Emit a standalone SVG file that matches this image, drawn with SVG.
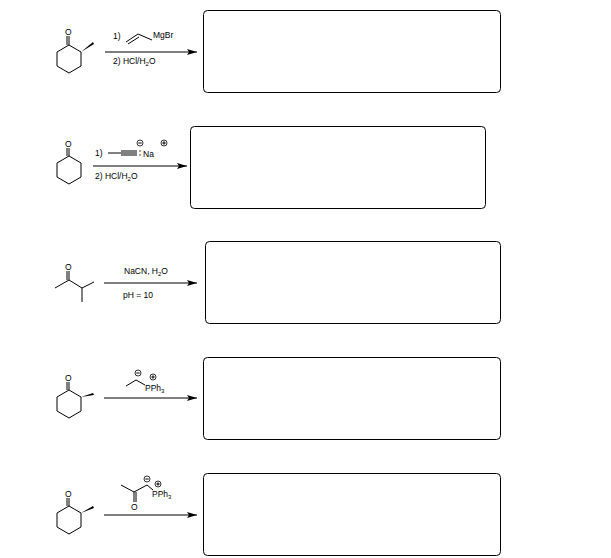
<svg xmlns="http://www.w3.org/2000/svg" width="611" height="558" viewBox="0 0 611 558">
<defs><marker id="ah" viewBox="0 0 10 6" refX="10" refY="3" markerWidth="10" markerHeight="6" markerUnits="userSpaceOnUse" orient="auto"><path d="M0,0L10,3L0,6L2,3Z" fill="#000"/></marker>
<g id="ring"><polygon points="0,0 12,7 12,21 0,28 -12,21 -12,7" fill="none"/></g></defs>
<style>line,polyline,polygon{stroke:#000;stroke-width:1;fill:none}.t{font-family:"Liberation Sans",Arial,sans-serif;font-size:8.5px;fill:#000}.s{font-size:6px}.box{fill:#fff;stroke:#000;stroke-width:1}.w{fill:#000;stroke:none}</style>
<rect width="611" height="558" fill="#fff"/>
<g id="m1"><use href="#ring" x="69" y="45" stroke="#000"/><line x1="69" y1="45" x2="69" y2="36"/><line x1="67" y1="45" x2="67" y2="36"/><text class="t" x="65" y="35">O</text><polygon class="w" points="81,52 93,42 94,44"/></g>
<g id="m2"><use href="#ring" x="69" y="156" stroke="#000"/><line x1="69" y1="156" x2="69" y2="148"/><line x1="67" y1="156" x2="67" y2="148"/><text class="t" x="65" y="147">O</text></g>
<g id="m3"><polyline points="55,288 69,280 82,288 94,282"/><line x1="82" y1="288" x2="82" y2="302"/><line x1="69" y1="280" x2="69" y2="271"/><line x1="67" y1="280" x2="67" y2="271"/><text class="t" x="65" y="270">O</text></g>
<g id="m4"><use href="#ring" x="69" y="390" stroke="#000"/><line x1="69" y1="390" x2="69" y2="382"/><line x1="67" y1="390" x2="67" y2="382"/><text class="t" x="65" y="381">O</text><polygon class="w" points="81,397 93,393 94,395"/></g>
<g id="m5"><use href="#ring" x="69" y="506" stroke="#000"/><line x1="69" y1="506" x2="69" y2="498"/><line x1="67" y1="506" x2="67" y2="498"/><text class="t" x="65" y="497">O</text><polygon class="w" points="81,513 93,506 94,508"/></g>
<g id="connectors">
<line x1="105" y1="52" x2="197" y2="52" marker-end="url(#ah)"/>
<line x1="93" y1="166" x2="187" y2="166" marker-end="url(#ah)"/>
<line x1="104" y1="283" x2="197" y2="283" marker-end="url(#ah)"/>
<line x1="104" y1="398" x2="197" y2="398" marker-end="url(#ah)"/>
<line x1="104" y1="515" x2="197" y2="515" marker-end="url(#ah)"/>
</g>
<g id="r1"><text class="t" x="113" y="39">1)</text><polyline points="126,42 138,34 152,40"/><line x1="128" y1="44" x2="139" y2="37"/><text class="t" x="153" y="38">MgBr</text><text class="t" x="113" y="64">2) HCl/H<tspan class="s" dy="2">2</tspan><tspan dy="-2">O</tspan></text></g>
<g id="r2"><text class="t" x="95" y="156">1)</text><line x1="108" y1="153" x2="137" y2="153"/><line x1="121" y1="151" x2="137" y2="151"/><line x1="121" y1="155" x2="137" y2="155"/><circle cx="140" cy="151" r="0.7"/><circle cx="140" cy="155" r="0.7"/><text class="t" x="143" y="157">Na</text><circle cx="140" cy="143" r="3" fill="none" stroke="#000" stroke-width="0.8"/><line x1="138.3" y1="143" x2="141.7" y2="143" stroke-width="0.8"/><circle cx="164" cy="143" r="3" fill="none" stroke="#000" stroke-width="0.8"/><line x1="162.3" y1="143" x2="165.7" y2="143" stroke-width="0.8"/><line x1="164" y1="141.3" x2="164" y2="144.7" stroke-width="0.8"/><text class="t" x="95" y="179">2) HCl/H<tspan class="s" dy="2">2</tspan><tspan dy="-2">O</tspan></text></g>
<g id="r3"><text class="t" x="124" y="274">NaCN, H<tspan class="s" dy="2">2</tspan><tspan dy="-2">O</tspan></text><text class="t" x="123" y="298">pH = 10</text></g>
<g id="r4"><polyline points="126,386 136,380 145,385"/><circle cx="138" cy="373" r="3" fill="none" stroke="#000" stroke-width="0.8"/><line x1="136.3" y1="373" x2="139.7" y2="373" stroke-width="0.8"/><circle cx="153" cy="377" r="3" fill="none" stroke="#000" stroke-width="0.8"/><line x1="151.3" y1="377" x2="154.7" y2="377" stroke-width="0.8"/><line x1="153" y1="375.3" x2="153" y2="378.7" stroke-width="0.8"/><text class="t" x="145" y="391">PPh<tspan class="s" dy="2">3</tspan></text></g>
<g id="r5"><polyline points="121,485 134,492 147,485 153,490"/><line x1="134" y1="492" x2="134" y2="502"/><line x1="136" y1="492" x2="136" y2="502"/><text class="t" x="131" y="510">O</text><circle cx="147" cy="479" r="3" fill="none" stroke="#000" stroke-width="0.8"/><line x1="145.3" y1="479" x2="148.7" y2="479" stroke-width="0.8"/><circle cx="158" cy="484" r="3" fill="none" stroke="#000" stroke-width="0.8"/><line x1="156.3" y1="484" x2="159.7" y2="484" stroke-width="0.8"/><line x1="158" y1="482.3" x2="158" y2="485.7" stroke-width="0.8"/><text class="t" x="152" y="497">PPh<tspan class="s" dy="2">3</tspan></text></g>
<rect id="b1" class="box" x="203.5" y="10.5" width="297" height="82" rx="4"/>
<rect id="b2" class="box" x="190.5" y="126.5" width="295" height="82" rx="4"/>
<rect id="b3" class="box" x="205.5" y="241.5" width="295" height="82" rx="4"/>
<rect id="b4" class="box" x="203.5" y="357.5" width="297" height="82" rx="4"/>
<rect id="b5" class="box" x="203.5" y="473.5" width="297" height="82" rx="4"/>
</svg>
